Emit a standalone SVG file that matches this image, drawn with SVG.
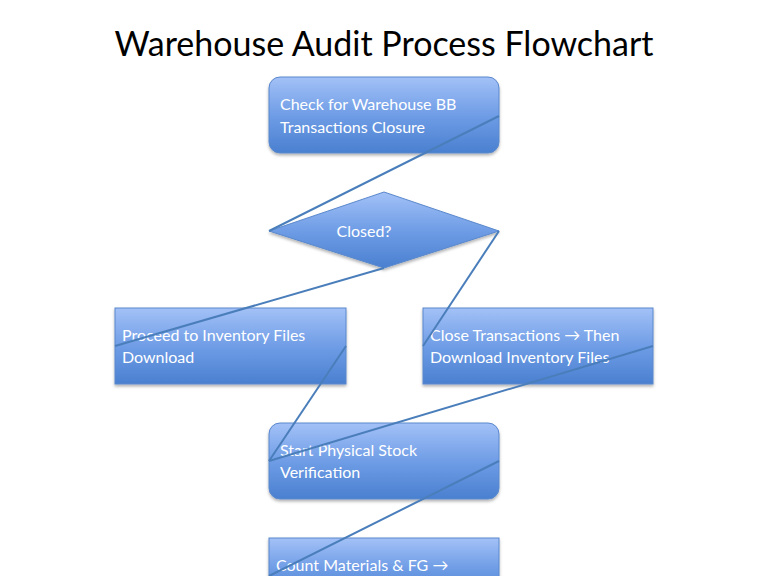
<svg xmlns="http://www.w3.org/2000/svg" width="768" height="576" viewBox="0 0 768 576">
<defs>
<linearGradient id="g" x1="0" y1="0" x2="0" y2="1">
<stop offset="0" stop-color="#a3c1f7"/>
<stop offset="0.5" stop-color="#6f9de6"/>
<stop offset="1" stop-color="#4a80d0"/>
</linearGradient>
<filter id="sh" x="-10%" y="-10%" width="120%" height="130%">
<feDropShadow dx="0" dy="2" stdDeviation="1.5" flood-color="#000" flood-opacity="0.3"/>
</filter>
</defs>
<style>
.n{fill:url(#g);stroke:#5a88cc;stroke-width:1;filter:url(#sh)}
.t{font-family:Lato,"Open Sans",sans-serif;font-size:16px;fill:#fff}
.c{stroke:#4a7ebb;stroke-width:2;fill:none}
</style>
<rect width="768" height="576" fill="#fff"/>
<text x="384" y="56" text-anchor="middle" font-family="Lato,'Open Sans',sans-serif" font-size="34" fill="#000">Warehouse Audit Process Flowchart</text>
<g id="n1"><rect class="n" x="269" y="77" width="230" height="76" rx="11"/><text class="t" x="280" y="110">Check for Warehouse BB</text><text class="t" x="280" y="133">Transactions Closure</text></g>
<g id="n2"><polygon class="n" points="384,192 499,231 384,268 269,231"/><text class="t" x="364" y="237" text-anchor="middle">Closed?</text></g>
<g id="n3"><rect class="n" x="115" y="308" width="231" height="76"/><text class="t" x="122" y="341">Proceed to Inventory Files</text><text class="t" x="122" y="363">Download</text></g>
<g id="n4"><rect class="n" x="423" y="308" width="230" height="76"/><text class="t" x="430" y="341">Close Transactions → Then</text><text class="t" x="430" y="363">Download Inventory Files</text></g>
<g id="n5"><rect class="n" x="269" y="423" width="230" height="76" rx="11"/><text class="t" x="280" y="456">Start Physical Stock</text><text class="t" x="280" y="478">Verification</text></g>
<g id="n6"><rect class="n" x="269" y="538" width="230" height="60"/><text class="t" x="276" y="571">Count Materials &amp; FG →</text></g>
<g id="connectors">
<line class="c" x1="499" y1="116" x2="269" y2="231"/>
<line class="c" x1="384" y1="268" x2="115" y2="346"/>
<line class="c" x1="499" y1="231" x2="423" y2="346"/>
<line class="c" x1="346" y1="346" x2="269" y2="461"/>
<line class="c" x1="653" y1="346" x2="269" y2="461"/>
<line class="c" x1="499" y1="461" x2="269" y2="576"/>
</g>
</svg>
